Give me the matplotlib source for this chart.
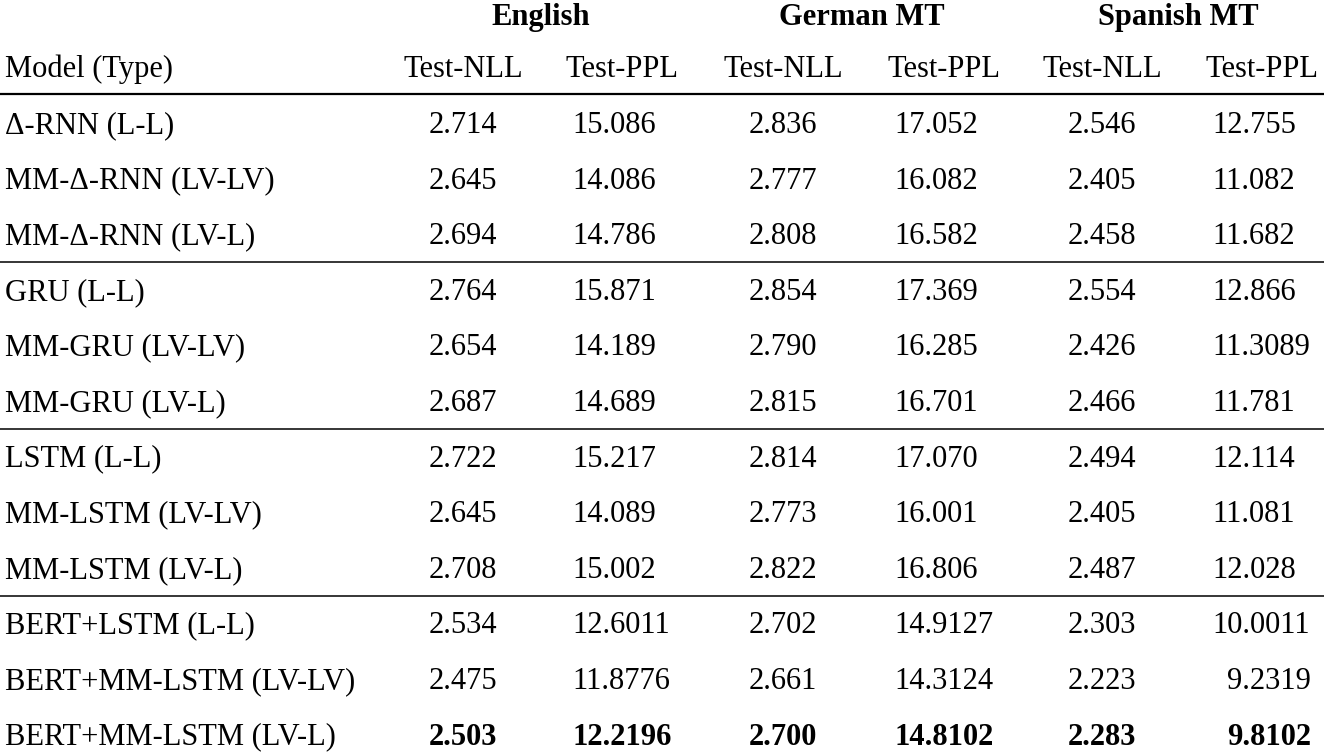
import matplotlib
matplotlib.use("Agg")
import matplotlib.pyplot as plt
from matplotlib.lines import Line2D

plt.rcParams['font.family'] = ['Liberation Serif', 'DejaVu Serif']

# Table contents
models = ['Δ-RNN (L-L)', 'MM-Δ-RNN (LV-LV)', 'MM-Δ-RNN (LV-L)',
          'GRU (L-L)', 'MM-GRU (LV-LV)', 'MM-GRU (LV-L)',
          'LSTM (L-L)', 'MM-LSTM (LV-LV)', 'MM-LSTM (LV-L)',
          'BERT+LSTM (L-L)', 'BERT+MM-LSTM (LV-LV)', 'BERT+MM-LSTM (LV-L)']
groups = ['English', 'German MT', 'Spanish MT']
sub_headers = ['Test-NLL', 'Test-PPL']

en_nll = ['2.714', '2.645', '2.694', '2.764', '2.654', '2.687',
          '2.722', '2.645', '2.708', '2.534', '2.475', '2.503']
en_ppl = ['15.086', '14.086', '14.786', '15.871', '14.189', '14.689',
          '15.217', '14.089', '15.002', '12.6011', '11.8776', '12.2196']
de_nll = ['2.836', '2.777', '2.808', '2.854', '2.790', '2.815',
          '2.814', '2.773', '2.822', '2.702', '2.661', '2.700']
de_ppl = ['17.052', '16.082', '16.582', '17.369', '16.285', '16.701',
          '17.070', '16.001', '16.806', '14.9127', '14.3124', '14.8102']
es_nll = ['2.546', '2.405', '2.458', '2.554', '2.426', '2.466',
          '2.494', '2.405', '2.487', '2.303', '2.223', '2.283']
es_ppl = ['12.755', '11.082', '11.682', '12.866', '11.3089', '11.781',
          '12.114', '11.081', '12.028', '10.0011', '9.2319', '9.8102']
bold_rows = [11]
rule_after = [2, 5, 8]

W, H = 1324, 753
fig = plt.figure(figsize=(W / 100, H / 100), dpi=100)
fs = 22


def fx(x):
    return x / W


def fy(y):
    return 1 - y / H


def put(x, y, s, ha='center', bold=False):
    fig.text(fx(x), fy(y), s, ha=ha, va='baseline', fontsize=fs,
             fontweight='bold' if bold else 'normal')


nll_cols = [463, 783, 1102]
ppl_cols = [622, 944, 1262]
group_x = [541, 862, 1178]

# header rows
for gx, g in zip(group_x, groups):
    put(gx, 25, g, bold=True)
put(5, 77, 'Model (Type)', ha='left')
for xn, xp in zip(nll_cols, ppl_cols):
    put(xn, 77, sub_headers[0])
    put(xp, 77, sub_headers[1])

# width of a 7-character number, used to align the PPL columns
renderer = fig.canvas.get_renderer()
probe = fig.text(0, 0, '00.0000', fontsize=fs)
w7 = probe.get_window_extent(renderer).width
probe.remove()

row0, dy = 133, 55.6
for i, m in enumerate(models):
    y = row0 + dy * i
    b = i in bold_rows
    put(5, y, m, ha='left')
    for xn, vals in zip(nll_cols, [en_nll, de_nll, es_nll]):
        put(xn, y, vals[i], bold=b)
    for xp, vals in zip(ppl_cols, [en_ppl, de_ppl, es_ppl]):
        v = vals[i]
        if float(v) >= 10:
            put(xp - w7 / 2, y, v, ha='left', bold=b)
        else:
            put(xp + w7 / 2, y, v, ha='right', bold=b)

# rules
fig.add_artist(Line2D([0, 1], [fy(94), fy(94)], color='black', lw=1.6))
for r in rule_after:
    y = row0 + dy * r + 18
    fig.add_artist(Line2D([0, 1], [fy(y), fy(y)], color='black', lw=1.1))

fig.savefig('out.png', dpi=100)
